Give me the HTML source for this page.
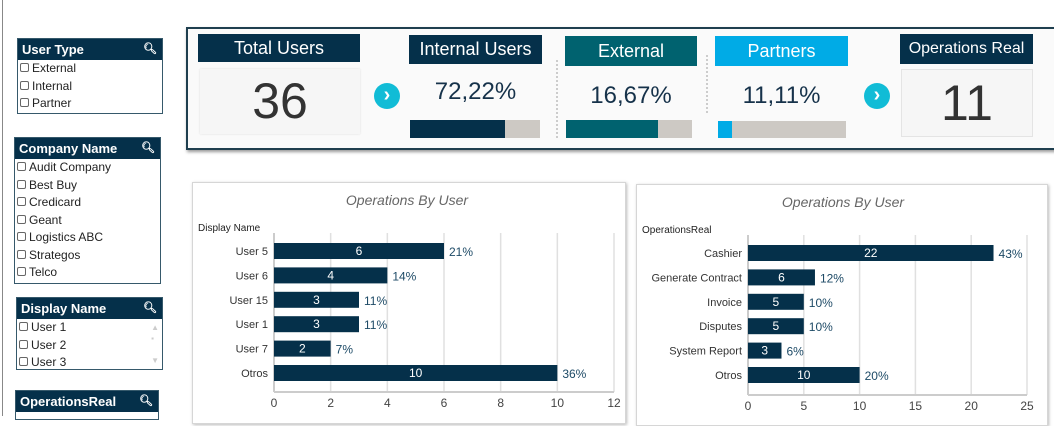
<!DOCTYPE html>
<html><head><meta charset="utf-8"><style>
body{margin:0;width:1054px;height:416px;overflow:hidden;background:#fff;font-family:"Liberation Sans",sans-serif;position:relative}
.abs{position:absolute}
.lb{position:absolute;border:1px solid #36596b;background:#fff;box-sizing:border-box;font-size:12px;color:#222}
.lb .h{background:#05304a;color:#fff;font-weight:bold;font-size:13px;height:21px;line-height:21px;padding-left:4px;position:relative}
.lb .h span.m{position:absolute;right:5px;top:0;font-size:11px}
.lb .it{height:17.5px;line-height:17.5px;padding-left:2px;white-space:nowrap}
.cb{display:inline-block;width:7px;height:7px;border:1px solid #666;border-radius:2px;margin-right:3px;vertical-align:0}
.hd{position:absolute;color:#fff;text-align:center;font-size:18px}
.arrow{position:absolute;width:26px;height:26px;border-radius:50%;background:#11bcd6;color:#fff;font-size:20px;line-height:25px;text-align:center;font-weight:bold}
.val{position:absolute;text-align:center;color:#16324a;font-size:24px}
.sep{position:absolute;width:0;border-left:2px dotted #ccc}
</style></head><body>
<div class="abs" style="left:2px;top:0;width:1px;height:416px;background:#888"></div>

<div class="lb" style="left:17px;top:38px;width:146px;height:76px">
<div class="h">User Type<span class="m">&#x1F50D;&#xFE0E;</span></div>
<div class="it"><span class="cb"></span>External</div>
<div class="it"><span class="cb"></span>Internal</div>
<div class="it"><span class="cb"></span>Partner</div>
</div>

<div class="lb" style="left:14px;top:137px;width:147px;height:147px">
<div class="h">Company Name<span class="m">&#x1F50D;&#xFE0E;</span></div>
<div class="it"><span class="cb"></span>Audit Company</div>
<div class="it"><span class="cb"></span>Best Buy</div>
<div class="it"><span class="cb"></span>Credicard</div>
<div class="it"><span class="cb"></span>Geant</div>
<div class="it"><span class="cb"></span>Logistics ABC</div>
<div class="it"><span class="cb"></span>Strategos</div>
<div class="it"><span class="cb"></span>Telco</div>
</div>

<div class="lb" style="left:16px;top:297px;width:147px;height:73px;overflow:hidden">
<div class="h">Display Name<span class="m">&#x1F50D;&#xFE0E;</span></div>
<div class="it"><span class="cb"></span>User 1</div>
<div class="it"><span class="cb"></span>User 2</div>
<div class="it"><span class="cb"></span>User 3</div>
<div class="abs" style="right:3px;top:24px;color:#ccc;font-size:8px;line-height:11px">▲<br>▪<br><br>▼</div>
</div>

<div class="lb" style="left:15px;top:390px;width:144px;height:30px">
<div class="h">OperationsReal<span class="m">&#x1F50D;&#xFE0E;</span></div>
</div>

<div class="abs" style="left:186px;top:27px;width:880px;height:123px;border:2px solid #1f3f4f;box-sizing:border-box;background:#fafafa;box-shadow:1px 2px 3px #999"></div>

<div class="hd" style="left:198px;top:34px;width:162px;height:28px;line-height:28px;background:#05304a">Total Users</div>
<div class="abs" style="left:200px;top:69px;width:160px;height:65px;background:#f6f6f6;box-shadow:0 0 2px #ddd;text-align:center;font-size:50px;line-height:65px;color:#333">36</div>
<div class="arrow" style="left:374px;top:83px">&#x203A;</div>

<div class="hd" style="left:409px;top:35px;width:133px;height:29px;line-height:29px;background:#05304a">Internal Users</div>
<div class="val" style="left:409px;top:78px;width:133px">72,22%</div>
<div class="abs" style="left:410px;top:120px;width:130px;height:18px;background:#cdc9c4"><div style="width:73%;height:100%;background:#05304a"></div></div>
<div class="sep" style="left:556px;top:60px;height:78px"></div>

<div class="hd" style="left:565px;top:36px;width:132px;height:30px;line-height:30px;background:#00626f">External</div>
<div class="val" style="left:565px;top:82px;width:132px">16,67%</div>
<div class="abs" style="left:566px;top:120px;width:126px;height:18px;background:#cdc9c4"><div style="width:73%;height:100%;background:#00626f"></div></div>
<div class="sep" style="left:706px;top:55px;height:58px"></div>

<div class="hd" style="left:715px;top:36px;width:133px;height:30px;line-height:30px;background:#00abe6">Partners</div>
<div class="val" style="left:715px;top:82px;width:133px">11,11%</div>
<div class="abs" style="left:718px;top:121px;width:128px;height:17px;background:#cdc9c4"><div style="width:11%;height:100%;background:#00abe6"></div></div>
<div class="arrow" style="left:864px;top:83px">&#x203A;</div>

<div class="hd" style="left:900px;top:34px;width:133px;height:30px;line-height:30px;background:#05304a;font-size:16px">Operations Real</div>
<div class="abs" style="left:901px;top:69px;width:132px;height:68px;background:#f6f6f6;border:1px solid #e4e4e4;box-sizing:border-box;text-align:center;font-size:50px;line-height:66px;color:#333">11</div>

<div class="abs" style="left:192px;top:182px;width:432px;height:240px;border:1px solid #d6d6d6;box-shadow:1px 1px 3px #bbb;background:#fff"></div>
<div class="abs" style="left:636px;top:184px;width:410px;height:240px;border:1px solid #d6d6d6;box-shadow:1px 1px 3px #bbb;background:#fff"></div>

<svg class="abs" style="left:0;top:0" width="1054" height="416" font-family="Liberation Sans, sans-serif">
<g id="c1"></g><g id="c2"></g>
</svg>
<script>
const cats1=["User 5","User 6","User 15","User 1","User 7","Otros"];
const vals1=[6,4,3,3,2,10];
const pcts1=["21%","14%","11%","11%","7%","36%"];
const ticks1=[0,2,4,6,8,10,12];
const cats2=["Cashier","Generate Contract","Invoice","Disputes","System Report","Otros"];
const vals2=[22,6,5,5,3,10];
const pcts2=["43%","12%","10%","10%","6%","20%"];
const ticks2=[0,5,10,15,20,25];
const NS="http://www.w3.org/2000/svg";
function mk(g,t,a,txt){const e=document.createElementNS(NS,t);for(const k in a)e.setAttribute(k,a[k]);if(txt!==undefined)e.textContent=txt;g.appendChild(e);return e;}
function chart(gid,o,cats,vals,pcts,ticks){
 const g=document.getElementById(gid);
 const max=ticks[ticks.length-1];
 const x=v=>o.x0+(v/max)*(o.x1-o.x0);
 const y=i=>o.y0+i*o.step;
 let e;
 e=mk(g,"text",{x:o.tx,y:o.ty,"text-anchor":"middle","font-size":14,"font-style":"italic",fill:"#666"},"Operations By User");
 
 
 e=mk(g,"text",{x:o.dx,y:o.dy,"font-size":10,fill:"#222"},o.dim);
 
 
 ticks.forEach(t=>{
  e=mk(g,"line",{x1:x(t),x2:x(t),y1:o.gt,y2:o.ax,stroke:"#e0e0e0","stroke-width":1.5});
  
  
  e=mk(g,"text",{x:x(t),y:o.ax+15,"text-anchor":"middle","font-size":12,fill:"#444"},t);
  
  
 });
 e=mk(g,"line",{x1:o.x0,x2:o.x1,y1:o.ax,y2:o.ax,stroke:"#ccc","stroke-width":2});
 
 
 e=mk(g,"line",{x1:o.x0,x2:o.x0,y1:o.gt,y2:o.ax,stroke:"#ccc","stroke-width":2});
 
 
 cats.forEach((c,i)=>{
  const cy=y(i);
  e=mk(g,"text",{x:o.x0-6,y:cy+4,"text-anchor":"end","font-size":11,fill:"#333"},c);
  
  
  e=mk(g,"rect",{x:o.x0,y:cy-8,width:x(vals[i])-o.x0,height:16,fill:"#05304a"});
  
  
  e=mk(g,"text",{x:(o.x0+x(vals[i]))/2,y:cy+4,"text-anchor":"middle","font-size":12,fill:"#fff"},vals[i]);
  
  
  e=mk(g,"text",{x:x(vals[i])+5,y:cy+5,"font-size":12,fill:"#1d4a66"},pcts[i]);
  
  
 });
}
chart("c1",{x0:274,x1:614,y0:251,step:24.4,ax:392,gt:233,tx:407,ty:205,dx:198,dy:231,dim:"Display Name"},cats1,vals1,pcts1,ticks1);
chart("c2",{x0:748,x1:1027,y0:253,step:24.4,ax:395,gt:235,tx:843,ty:207,dx:642,dy:233,dim:"OperationsReal"},cats2,vals2,pcts2,ticks2);
</script>
</body></html>
